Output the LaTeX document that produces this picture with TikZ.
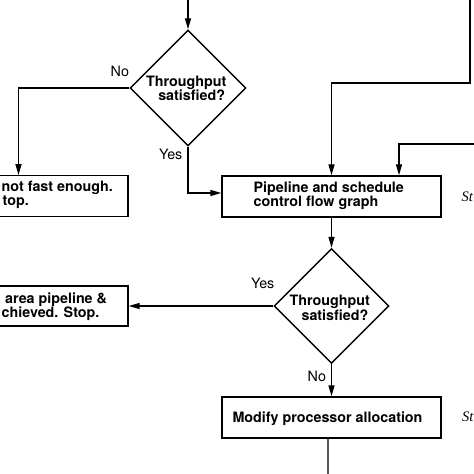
\documentclass[tikz,border=0pt]{standalone}
\usepackage{fontspec}
\setmainfont{TeX Gyre Heros}
\newfontfamily\serifit{Liberation Serif}
\usetikzlibrary{shapes.geometric,arrows.meta}
\begin{document}
\begin{tikzpicture}[x=1bp,y=-1bp,
  line width=1.4bp,
  box/.style={draw,rectangle,minimum width=219bp,minimum height=41bp,inner sep=0pt},
  dia/.style={draw,diamond,minimum width=116bp,minimum height=116bp,inner sep=0pt},
  txt/.style={inner sep=0pt,font=\fontsize{14.3bp}{14.3bp}\selectfont\bfseries},
  lab/.style={inner sep=0pt,font=\fontsize{14.3bp}{14.3bp}\selectfont},
  stp/.style={inner sep=0pt,font=\serifit\itshape\fontsize{14.5bp}{14.5bp}\selectfont},
  arr/.style={-{Triangle[length=11bp,width=6bp]}}]
\useasboundingbox (0,0) rectangle (474,474);
\clip (0,0) rectangle (474,474);
\fill[white] (0,0) rectangle (474,474);

% nodes
\node[dia] (d1) at (188,88) {};
\node[dia,minimum width=115bp,minimum height=115bp] (d2) at (331.5,306) {};
\node[box] (b1) at (18.5,196.25) {};
\node[box] (b2) at (331.5,196.5) {};
\node[box,minimum height=40bp] (b3) at (18.5,306) {};
\node[box] (b4) at (331.5,417.5) {};

% texts
\node[txt,anchor=base east] (d1a) at (227,86.7) {Throughput};
\node[txt,anchor=base east] (d1b) at (225.7,100.7) {satisfied?};
\node[txt,anchor=base east] (d2a) at (370.5,305.5) {Throughput};
\node[txt,anchor=base east] (d2b) at (369,320) {satisfied?};
\node[txt,anchor=base west] (b2a) at (253,192.3) {Pipeline and schedule};
\node[txt,anchor=base west] (b2b) at (253,206.3) {control flow graph};
\node[txt,anchor=base] (b4a) at (327.5,422) {Modify processor allocation};
\node[txt,anchor=base west] (b1a) at (1,191.7) {not fast enough.};
\node[txt,anchor=base west] (b1b) at (2,205.7) {top.};
\node[txt,anchor=base east] (b3a) at (107.7,303.3) {area pipeline \&};
\node[txt,anchor=base west] (b3b) at (1,317) {chieved. Stop.};

\node[lab,anchor=base west] (l1) at (110,76.7) {No};
\node[lab,anchor=base west] (l2) at (158.3,159.3) {Yes};
\node[lab,anchor=base west] (l3) at (250.3,288) {Yes};
\node[lab,anchor=base west] (l4) at (307,381) {No};

\node[stp,anchor=base west] (s1) at (461,201.5) {St};
\node[stp,anchor=base west] (s2) at (461.5,421) {St};

% free ends
\coordinate (c0) at (188,-3);
\coordinate (c1) at (470,-3);
\coordinate (k1) at (470,83);
\coordinate (c2) at (477,144);
\coordinate (c3) at (328,477);

% connectors
\draw[arr] (c0) -- (d1.north);
\draw[arr] (d1.west) -| (b1.north);
\draw[arr] (d1.south) |- ([yshift=3.5bp]b2.west);
\draw[arr] (c1) -- (k1) -| (b2.north);
\draw[arr] (c2) -| ([xshift=67.5bp]b2.north);
\draw[arr] (b2.south) -- (d2.north);
\draw[arr] (d2.west) -- (b3.east);
\draw[arr] (d2.south) -- (b4.north);
\draw ([xshift=-3.5bp]b4.south) -- (c3);
\end{tikzpicture}
\end{document}
